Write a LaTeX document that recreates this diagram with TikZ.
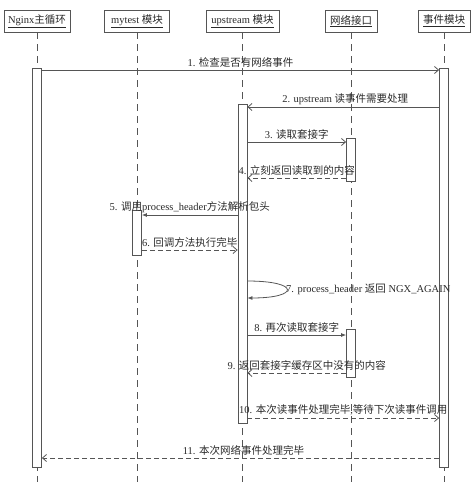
\documentclass[tikz,border=0pt]{standalone}
\usepackage{fontspec}
\setmainfont{Liberation Serif}
\newfontfamily\cjk{Noto Sans CJK SC}
\newcommand{\zh}[1]{{\cjk #1}}
\usetikzlibrary{arrows.meta}
\definecolor{ln}{HTML}{555555}
\definecolor{tx}{HTML}{2A2A2A}
\begin{document}
\begin{tikzpicture}[x=1pt,y=-1pt,
  font=\fontsize{10.5}{12}\selectfont, text=tx,
  head/.style={draw=ln, line width=0.8pt, minimum height=22pt, inner sep=1pt, fill=white},
  life/.style={draw=ln, line width=0.8pt, dash pattern=on 7pt off 5pt},
  bar/.style={draw=ln, line width=0.8pt, fill=white, minimum width=9pt, inner sep=0pt},
  msg/.style={draw=ln, line width=0.8pt, -{Straight Barb[length=4pt,width=7pt]}},
  ret/.style={msg, dash pattern=on 5pt off 3pt},
  call/.style={draw=ln, line width=0.8pt, -{Latex[length=5pt,width=4pt]}},
  lbl/.style={above, inner sep=2pt, text=tx}]
\useasboundingbox (0,0) rectangle (474,493);
% headers
\node[head, minimum width=66pt] (hN) at (37,21) {\underline{Nginx\zh{主循环}}};
\node[head, minimum width=65pt] (hM) at (137,21) {\underline{mytest \zh{模块}}};
\node[head, minimum width=73pt] (hU) at (242.5,21) {\underline{upstream \zh{模块}}};
\node[head, minimum width=52pt] (hS) at (351,21) {\underline{\zh{网络接口}}};
\node[head, minimum width=52pt] (hE) at (444,21) {\underline{\zh{事件模块}}};
% lifeline ends
\coordinate (eN) at (37,482);
\coordinate (eM) at (137,482);
\coordinate (eU) at (242.5,482);
\coordinate (eS) at (351,482);
\coordinate (eE) at (444,482);
\draw[life] (hN.south) -- (eN);
\draw[life] (hM.south) -- (eM);
\draw[life] (hU.south) -- (eU);
\draw[life] (hS.south) -- (eS);
\draw[life] (hE.south) -- (eE);
% activation bars
\node[bar, minimum height=399pt] (aN) at (37,267.5) {};
\node[bar, minimum height=399pt] (aE) at (444,267.5) {};
\node[bar, minimum height=319pt] (aU) at (242.5,263.5) {};
\node[bar, minimum height=43pt] (aS1) at (351,159.5) {};
\node[bar, minimum height=45pt] (aM) at (137,232.5) {};
\node[bar, minimum height=48pt] (aS2) at (351,353) {};
% messages
\draw[msg] (aN.east |- 0,70) -- node[lbl] {1. \zh{检查是否有网络事件}} (aE.west |- 0,70);
\draw[msg] (aE.west |- 0,107) -- node[lbl, xshift=2pt] {2. upstream \zh{读事件需要处理}} (aU.east |- 0,107);
\draw[msg] (aU.east |- 0,142) -- node[lbl] {3. \zh{读取套接字}} (aS1.west |- 0,142);
\draw[ret] (aS1.west |- 0,178) -- node[lbl] {4. \zh{立刻返回读取到的内容}} (aU.east |- 0,178);
\draw[call] (aU.west |- 0,215) -- node[lbl] {5. \zh{调用}process\_header\zh{方法解析包头}} (aM.east |- 0,215);
\draw[ret] (aM.east |- 0,250) -- node[lbl] {6. \zh{回调方法执行完毕}} (aU.west |- 0,250);
\draw[call] (aU.east |- 0,281) .. controls (300,281) and (300,298) .. (aU.east |- 0,298);
\node[right, inner sep=0pt] (l7) at (286,289) {7. process\_header \zh{返回} NGX\_AGAIN};
\draw[call] (aU.east |- 0,335) -- node[lbl] {8. \zh{再次读取套接字}} (aS2.west |- 0,335);
\draw[ret] (aS2.west |- 0,373) -- node[lbl, xshift=10pt] {9. \zh{返回套接字缓存区中没有的内容}} (aU.east |- 0,373);
\draw[ret] (aU.east |- 0,418) -- node[lbl] {10. \zh{本次读事件处理完毕},\zh{等待下次读事件调用}} (aE.west |- 0,418);
\draw[ret] (aE.west |- 0,458) -- node[lbl, xshift=3pt] {11. \zh{本次网络事件处理完毕}} (aN.east |- 0,458);
\end{tikzpicture}
\end{document}
